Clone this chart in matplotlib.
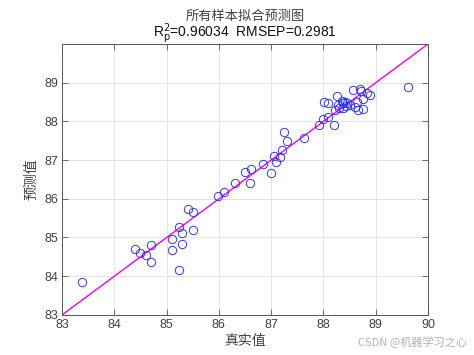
import matplotlib.pyplot as plt
import numpy as np

plt.rcParams['font.family'] = ['Liberation Sans', 'Noto Sans CJK SC', 'DejaVu Sans']

# true values (x) and predicted values (y)
true_vals = [83.39, 84.40, 84.49, 84.60, 84.70, 84.70, 85.10, 85.10, 85.24, 85.24,
             85.29, 85.29, 85.40, 85.50, 85.50, 85.99, 86.10, 86.30, 86.60, 86.49,
             86.61, 86.85, 87.00, 87.05, 87.10, 87.16, 87.20, 87.25, 87.30, 87.62,
             87.92, 88.01, 88.09, 88.00, 88.09, 88.20, 88.22, 88.28, 88.35, 88.38,
             88.41, 88.44, 88.38, 88.30, 88.51, 88.56, 88.70, 88.71, 88.76, 88.64,
             88.60, 88.67, 88.76, 88.89, 88.83, 89.61, 88.25, 88.45]
pred_vals = [83.85, 84.71, 84.61, 84.54, 84.81, 84.36, 84.95, 84.67, 84.15, 85.26,
             85.11, 84.84, 85.74, 85.65, 85.20, 86.08, 86.18, 86.41, 86.41, 86.69,
             86.76, 86.89, 86.67, 87.10, 86.95, 87.08, 87.25, 87.73, 87.49, 87.57,
             87.91, 88.51, 88.47, 88.06, 88.11, 87.92, 88.30, 88.43, 88.54, 88.47,
             88.51, 88.40, 88.34, 88.34, 88.43, 88.81, 88.83, 88.79, 88.57, 88.51,
             88.37, 88.30, 88.31, 88.69, 88.73, 88.90, 88.66, 88.48]
r2 = 0.96034
rmsep = 0.2981

txt = '#404040'
fig = plt.figure(figsize=(4.74, 3.55), dpi=100)
ax = fig.add_axes([0.131, 0.113, 0.772, 0.763])

ax.plot([83, 90], [83, 90], color='#ee00ee', lw=1.0, zorder=2)
ax.plot(true_vals, pred_vals, 'o', mfc='none', mec='#3333ff', ms=6, mew=0.7, zorder=3)

ax.set_xlim(83, 90)
ax.set_ylim(83, 90)
ax.set_xticks(np.arange(83, 91))
ax.set_yticks(np.arange(83, 90))
ax.grid(True, color='#e3e3e3', lw=0.7)
ax.set_axisbelow(True)
ax.tick_params(direction='in', top=True, right=True, length=4, width=0.6,
               colors='#555555', labelcolor=txt, labelsize=9, pad=3)
for s in ax.spines.values():
    s.set_color('#555555')
    s.set_linewidth(0.7)

cjk = ['Noto Sans CJK SC', 'DejaVu Sans']
ax.set_xlabel('真实值', family=cjk, fontsize=10, color=txt, labelpad=2)
ax.set_ylabel('预测值', family=cjk, fontsize=10, color=txt, labelpad=4)
fig.text(0.517, 0.955, '所有样本拟合预测图', family=cjk, fontsize=9.5,
         color=txt, ha='center', va='center')
fig.text(0.517, 0.905, r'R$_{\mathrm{p}}^{2}$=%.5f  RMSEP=%.4f' % (r2, rmsep),
         fontsize=10, color='#111111', ha='center', va='center')
fig.text(0.985, 0.035, 'CSDN @机器学习之心', family=cjk, fontsize=8,
         color='#b0b0b0', ha='right', va='center')

fig.savefig('out.png', dpi=100)
